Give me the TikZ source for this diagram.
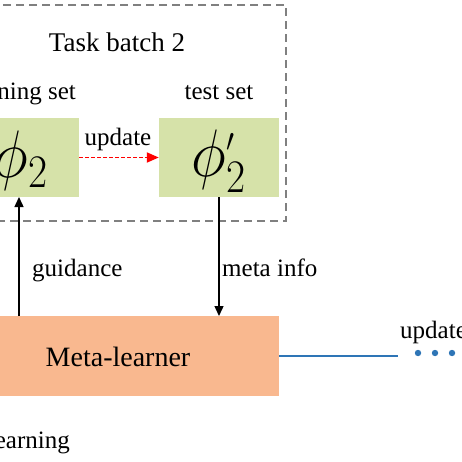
\documentclass[tikz,border=0pt]{standalone}
\usepackage{fontspec}
\setmainfont{Liberation Serif}
\usetikzlibrary{arrows.meta}
\definecolor{boxgreen}{HTML}{D6E2A9}
\definecolor{boxpeach}{HTML}{F9B88F}
\definecolor{lineblue}{HTML}{2E75B6}
\begin{document}
\begin{tikzpicture}[x=1pt,y=-1pt,
  lbl/.style={font=\fontsize{25}{25}\selectfont, inner sep=0pt, anchor=base},
  greenbox/.style={fill=boxgreen, minimum width=120pt, minimum height=79pt, inner sep=0pt},
  blk/.style={draw=black, line width=1.4pt, -{Triangle[length=10pt,width=9pt]}},
  phitext/.style={font=\fontsize{24}{24}\selectfont, inner sep=0pt, xscale=2.4, yscale=2.7}]
\useasboundingbox (0,0) rectangle (462,462);
\clip (0,0) rectangle (462,462);
\draw[gray, line width=1.4pt, dash pattern=on 8pt off 5pt] (-60,5) rectangle (286,221);
\node[lbl, font=\fontsize{27}{27}\selectfont] (title) at (117,52) {Task batch 2};
\node[lbl] (trlab) at (20,100) {training set};
\node[lbl] (telab) at (219,100) {test set};
\node[greenbox] (phiL) at (19,157.5) {};
\node[greenbox] (phiR) at (219,157.5) {};
\node[phitext] (phiLt) at (21,161) {$\phi_2$};
\node[phitext] (phiRt) at (219,161) {$\phi_2^{\scriptscriptstyle\prime}$};
\draw[red, line width=1.8pt, dash pattern=on 3.5pt off 2.5pt, -{Triangle[length=12pt,width=10pt]}] (phiL.east) -- (phiR.west);
\node[lbl] (upd) at (118,146) {update};
\node[fill=boxpeach, minimum width=322pt, minimum height=80pt, inner sep=0pt] (meta) at (118,356) {};
\node[lbl, font=\fontsize{28}{28}\selectfont] (metat) at (118,366) {Meta-learner};
\coordinate (gA) at (19,316);
\coordinate (gB) at (19,197);
\draw[blk] (gA) -- (gB);
\coordinate (mA) at (219,197);
\coordinate (mB) at (219,316);
\draw[blk] (mA) -- (mB);
\node[lbl, anchor=base west] (guid) at (32,276) {guidance};
\node[lbl, anchor=base west] (minfo) at (222,276) {meta info};
\coordinate (bl) at (398,356);
\draw[lineblue, line width=1.4pt] (meta.east |- bl) -- (bl);
\fill[lineblue] (418,353) circle (3.2pt) (435,353) circle (3.2pt) (452,353) circle (3.2pt);
\node[lbl, anchor=base west] (upd2) at (400,338) {update};
\node[lbl, anchor=base east] (learn) at (70,448) {learning};
\end{tikzpicture}
\end{document}
